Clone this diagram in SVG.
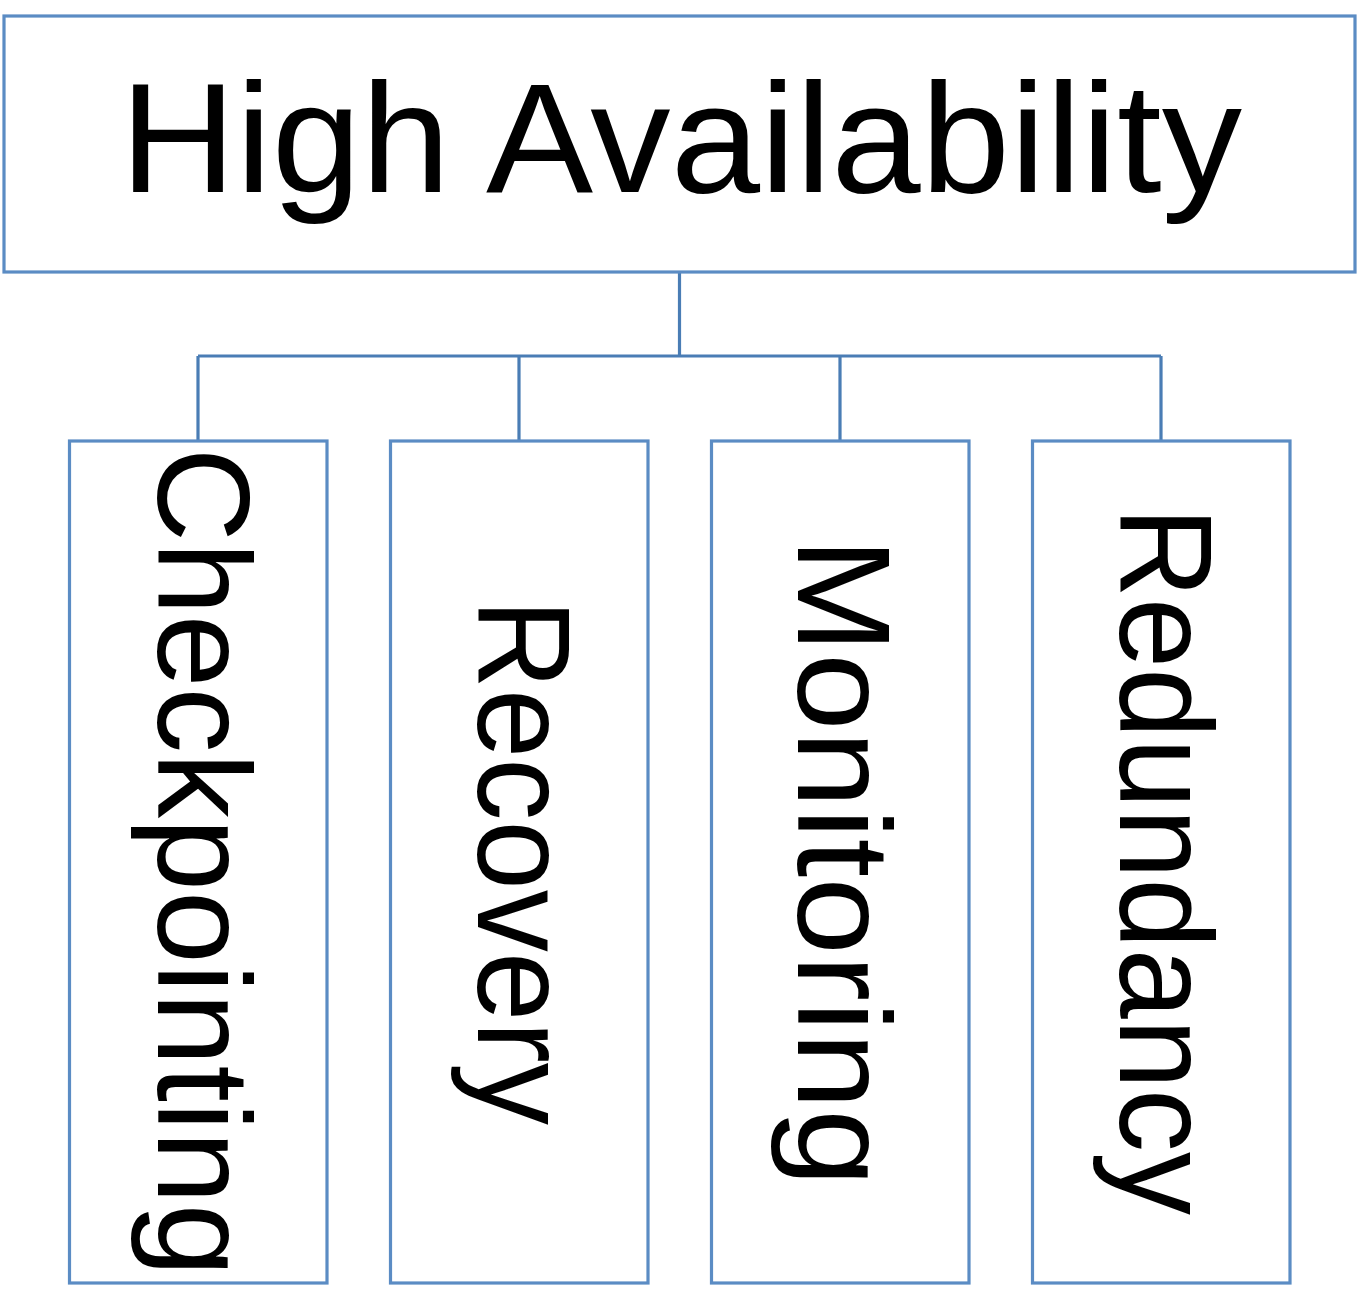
<svg xmlns="http://www.w3.org/2000/svg" width="1358" height="1308" viewBox="0 0 1358 1308">
<style>
.box{fill:#ffffff;stroke:#5B8CC4;stroke-width:3.2}
.conn{fill:none;stroke:#4A7DB5;stroke-width:3.2}
.t{font-family:"Liberation Sans",Arial,sans-serif;fill:#000000;text-anchor:middle}
.big{font-size:156px}
.v{font-size:132px}
</style>
<rect width="1358" height="1308" fill="#ffffff"/>
<g id="connectors">
<path class="conn" d="M679.5 272 V356 M198 356 H1161 M198 356 V441 M519 356 V441 M840 356 V441 M1161 356 V441"/>
</g>
<g id="root">
<rect class="box" x="4" y="16" width="1351" height="256"/>
<text class="t big" x="681" y="192" textLength="1122" lengthAdjust="spacingAndGlyphs">High Availability</text>
</g>
<g id="checkpointing">
<rect class="box" x="69.5" y="441" width="257.5" height="842"/>
<text class="t v" transform="translate(158 862) rotate(90)" x="0" y="0" textLength="829" lengthAdjust="spacingAndGlyphs">Checkpointing</text>
</g>
<g id="recovery">
<rect class="box" x="390.5" y="441" width="257.5" height="842"/>
<text class="t v" transform="translate(478 862) rotate(90)" x="0" y="0" textLength="526" lengthAdjust="spacingAndGlyphs">Recovery</text>
</g>
<g id="monitoring">
<rect class="box" x="711.5" y="441" width="257.5" height="842"/>
<text class="t v" transform="translate(798 862) rotate(90)" x="0" y="0" textLength="649" lengthAdjust="spacingAndGlyphs">Monitoring</text>
</g>
<g id="redundancy">
<rect class="box" x="1032.5" y="441" width="257.5" height="842"/>
<text class="t v" transform="translate(1120 861) rotate(90)" x="0" y="0" textLength="708" lengthAdjust="spacingAndGlyphs">Redundancy</text>
</g>
</svg>
